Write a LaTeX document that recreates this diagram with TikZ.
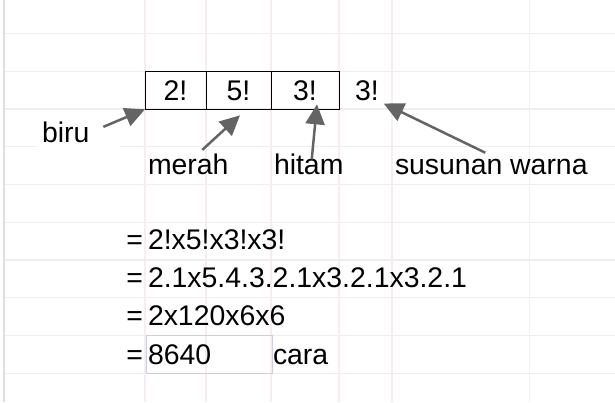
\documentclass[tikz,border=0pt]{standalone}
\usepackage{fontspec}
\setmainfont{Liberation Sans}
\usetikzlibrary{arrows.meta,positioning}
\definecolor{gridrow}{RGB}{238,238,238}
\definecolor{gridcol}{RGB}{245,237,241}
\definecolor{gridedge}{RGB}{222,222,222}
\definecolor{arrowgray}{RGB}{100,100,100}
\definecolor{selframe}{RGB}{205,206,222}

\begin{document}
\begin{tikzpicture}[x=1pt, y=-1pt,
  txt/.style={inner sep=0pt, outer sep=0pt, font=\fontsize{28.4}{30}\selectfont},
  celltxt/.style={txt, text height=20.4pt, text depth=0pt},
  cellbox/.style={celltxt, draw=black, line width=1pt, minimum height=38pt},
  pointer/.style={draw=arrowgray, line width=2.5pt, -{Triangle[length=20pt, width=19pt]}},
  gridline/.style={line width=1.2pt}]
\fill[white] (0,0) rectangle (615,402);
\useasboundingbox (0,0) rectangle (615,402);

% Spreadsheet grid
\foreach \gy in {33.4,71.15,108.9,184.4,222.15,259.9,297.65,335.4,373.15}
  \draw[gridline, gridrow] (4,\gy) -- (615,\gy);
\draw[gridline, gridrow] (4,146.65) -- (37,146.65) (120,146.65) -- (615,146.65);
\foreach \gx in {145,206,271,339,392,529.5}
  \draw[gridline, gridcol] (\gx,0) -- (\gx,402);
\draw[gridline, gridedge] (4,0) -- (4,402);

% Colour blocks
\node[cellbox, minimum width=61pt] (c1) at (175.5,90.3) {2!};
\node[cellbox, minimum width=65pt, right=0pt of c1] (c2) {5!};
\node[cellbox, minimum width=68pt, right=0pt of c2] (c3) {3!};
\node[celltxt, right=16pt of c3] (c4) {3!};

% Labels
\node[txt, anchor=base west] (biru) at (42,142) {biru};
\node[txt, anchor=base west] (merah) at (148,174) {merah};
\node[txt, anchor=base west] (hitam) at (274,174) {hitam};
\node[txt, anchor=base west] (susunan) at (395,174) {susunan warna};

% Pointers
\draw[pointer] ([xshift=14pt,yshift=5pt]biru.east) -- (c1.south west);
\draw[pointer] ([xshift=14pt,yshift=3.5pt]merah.north) -- ([xshift=1.5pt,yshift=-6pt]c2.south);
\draw[pointer] ([xshift=3pt,yshift=-6pt]hitam.north) -- ([xshift=12pt,yshift=5pt]c3.south);
\draw[pointer] ([xshift=-6pt,yshift=6pt]susunan.north) -- ([xshift=5pt,yshift=-3pt]c4.south east);

% Working
\node[txt, anchor=base east] (eq1) at (143,249) {=};
\node[txt, base right=5pt of eq1] (ex1) {2!x5!x3!x3!};
\node[txt, anchor=base east] (eq2) at (143,287) {=};
\node[txt, base right=5pt of eq2] (ex2) {2.1x5.4.3.2.1x3.2.1x3.2.1};
\node[txt, anchor=base east] (eq3) at (143,325) {=};
\node[txt, base right=5pt of eq3] (ex3) {2x120x6x6};
\node[txt, anchor=base east] (eq4) at (143,364) {=};
\draw[selframe, line width=1pt] (146,335.4) rectangle (272,373.15);
\node[txt, base right=5pt of eq4] (ex4) {8640};
\node[txt, anchor=base west] (cara) at (273,364) {cara};
\end{tikzpicture}
\end{document}
